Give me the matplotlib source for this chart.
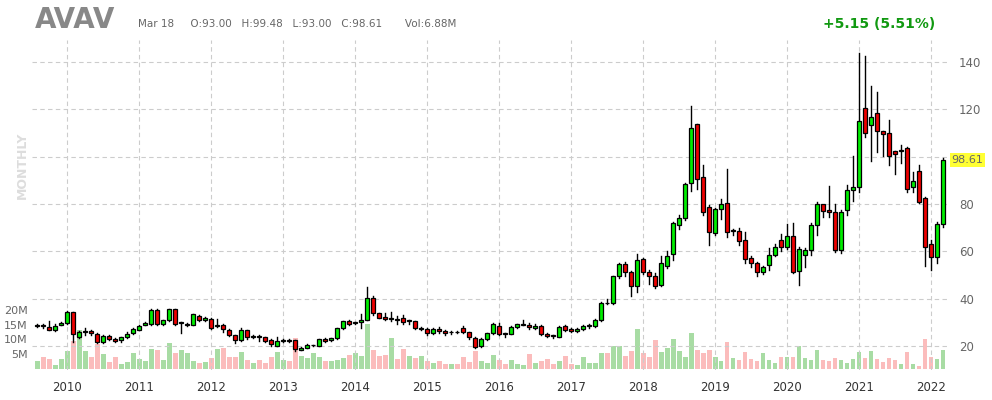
import numpy as np
import matplotlib
matplotlib.use("Agg")
import matplotlib.pyplot as plt
from matplotlib.patches import Rectangle

# monthly candles, Aug 2009 .. Mar 2022
first_month = (2009, 8)
opens = [28.6,28.5,28.2,26.7,29.0,29.6,34.2,24.0,26.0,26.5,25.0,21.9,24.4,23.2,22.4,23.7,25.4,27.0,29.0,29.3,35.2,29.2,31.0,35.6,29.8,29.0,29.0,32.5,31.1,
         31.6,28.6,29.1,27.0,24.5,22.4,26.6,24.0,24.0,23.7,22.4,20.2,22.3,22.3,22.4,18.2,19.4,20.3,20.2,22.8,22.4,23.3,27.5,30.8,29.9,30.0,31.2,40.5,33.8,
         32.3,31.5,31.3,31.9,30.5,30.5,27.2,27.2,25.4,27.2,26.5,25.8,25.9,27.5,25.8,23.5,19.9,23.1,25.5,28.6,25.3,25.1,28.0,29.1,29.1,27.6,28.6,25.2,
         24.4,24.0,28.6,27.3,26.2,27.2,28.5,28.5,31.1,38.2,38.0,49.4,54.5,51.4,45.5,56.6,51.5,49.8,46.0,54.0,58.7,71.0,73.9,89.1,113.7,91.3,78.6,67.6,77.9,80.3,68.7,68.8,
         65.0,57.4,54.9,51.1,54.3,58.6,65.0,62.0,66.7,51.9,58.3,60.8,71.0,80.0,77.4,76.6,60.4,77.3,86.0,87.2,120.4,113.6,118.3,110.9,110.2,102.2,102.5,103.5,87.1,94.0,82.4,63.0,57.5,71.4]
closes = [28.7,28.4,27.0,28.6,29.6,34.5,25.0,25.8,26.1,25.4,21.6,24.3,22.9,22.2,23.7,25.1,27.2,28.4,29.6,35.2,29.2,31.0,35.5,29.2,29.9,29.3,33.4,31.2,32.0,
          27.6,28.7,27.1,24.5,22.4,26.6,23.7,24.1,23.9,22.0,20.7,22.0,22.4,22.2,18.6,19.4,20.3,20.4,22.8,22.0,23.3,27.5,30.4,29.4,30.0,31.2,40.5,33.8,32.0,
          31.6,31.6,31.2,30.3,30.6,27.6,27.3,25.4,27.2,26.2,25.4,25.9,25.8,25.8,23.7,19.8,23.1,25.5,29.4,25.0,25.2,28.0,29.2,29.2,27.9,28.6,24.9,24.4,
          24.3,28.1,27.0,26.5,27.2,28.3,28.6,31.2,38.4,38.0,49.5,54.5,51.4,45.5,56.2,51.3,49.7,45.5,54.9,58.0,71.8,73.9,88.3,112.2,90.4,76.8,68.0,77.9,80.0,68.3,68.8,64.6,
          56.8,54.9,51.5,53.6,58.3,61.7,61.7,66.7,51.5,61.2,60.4,71.1,80.0,77.0,76.6,60.4,76.6,85.8,87.0,114.9,110.2,116.6,110.7,109.8,100.5,101.3,102.6,86.5,89.6,81.0,62.0,57.5,71.4,98.61]
highs = [29.3,29.2,30.5,29.3,30.0,34.8,34.5,26.5,27.5,27.0,25.5,24.8,24.7,23.5,24.0,26.0,27.8,29.0,30.2,35.5,35.8,31.2,35.8,35.8,30.2,29.6,33.6,33.0,32.3,
         32.0,31.5,29.4,27.2,24.8,27.8,26.9,24.6,24.8,24.0,22.8,23.7,22.8,22.9,22.6,19.8,20.8,20.6,23.2,23.6,23.6,27.7,30.6,31.0,30.3,33.6,44.9,41.0,34.0,
         34.0,34.2,32.8,33.0,31.0,30.8,28.0,27.8,27.6,28.1,26.9,26.5,26.4,28.5,26.0,23.9,23.4,25.7,29.9,29.6,25.6,28.4,29.5,31.2,29.6,29.3,28.9,25.7,
         24.8,28.4,28.9,27.6,27.6,29.1,29.3,31.4,38.6,39.8,49.7,55.1,55.5,51.6,59.0,57.2,52.3,51.0,58.2,60.0,72.5,75.5,89.0,121.4,114.0,96.5,79.8,78.4,82.3,95.0,69.5,70.0,
         68.0,58.0,55.6,53.9,61.5,63.0,67.2,71.6,71.8,62.0,61.5,71.8,81.0,79.4,87.8,80.0,77.5,88.2,100.5,144.0,142.6,130.0,127.3,111.0,115.3,102.6,105.0,104.3,93.5,96.6,83.0,65.0,72.5,99.48]
lows = [28.0,27.8,26.8,26.3,28.8,29.3,21.9,23.5,24.6,24.5,21.2,21.3,22.5,21.8,21.9,23.5,25.2,27.0,28.8,29.0,28.7,28.9,30.8,28.9,25.5,28.3,28.8,30.6,30.8,
        27.3,28.0,26.0,24.1,21.5,22.1,23.1,23.4,22.2,21.6,20.0,20.0,21.8,21.6,17.8,18.2,19.2,20.0,20.0,21.7,22.1,23.1,27.2,28.8,29.2,27.8,31.0,33.3,31.7,
        30.9,30.8,29.3,29.2,29.4,27.3,26.7,24.8,25.0,25.4,24.8,25.3,25.4,25.4,22.8,19.4,19.6,22.7,25.0,24.6,23.8,24.9,27.7,28.8,27.2,27.2,24.5,23.8,
        23.4,23.8,26.3,25.9,26.0,26.7,27.8,28.1,30.8,37.9,37.8,48.9,49.8,41.3,43.0,50.5,46.2,44.5,45.3,53.1,56.2,69.6,73.3,85.7,86.4,75.3,62.9,67.0,73.7,66.2,67.0,62.8,
        55.3,53.6,49.6,50.5,52.3,58.1,60.2,61.2,50.7,45.6,53.5,58.5,66.8,74.6,74.5,59.6,59.3,75.3,81.1,85.1,108.2,98.3,102.0,100.5,96.4,92.7,97.3,84.9,85.3,80.6,53.7,52.3,55.2,70.2]
volumes = [2.6,3.9,3.3,1.3,3.3,6.0,9.4,13.2,6.0,4.1,8.5,5.0,2.3,3.9,1.6,2.3,5.4,3.3,2.6,6.7,6.4,3.0,8.8,5.4,6.4,5.4,2.6,1.9,2.3,
           3.7,6.7,7.0,3.9,3.9,5.7,3.0,1.9,3.0,1.9,3.9,5.7,3.0,2.6,10.5,4.3,3.7,5.4,3.9,2.6,2.6,3.0,3.7,4.7,5.4,4.3,15.2,6.4,4.3,
           4.7,10.5,3.3,6.7,4.3,3.7,4.3,2.6,1.9,2.6,1.6,1.6,1.6,3.9,2.3,6.0,2.6,1.9,4.7,3.0,1.6,3.0,1.6,1.3,5.0,1.9,2.6,3.4,
           1.6,2.6,4.3,1.6,1.3,4.0,2.0,2.0,5.4,5.4,7.8,7.8,4.3,6.0,13.5,5.4,4.0,9.8,5.7,7.0,10.1,6.0,4.0,12.1,6.3,5.4,6.3,4.0,2.6,9.1,3.7,3.0,
           5.7,3.3,2.6,5.4,3.0,2.0,4.0,4.0,4.0,7.7,3.7,3.0,6.4,3.0,2.6,3.7,3.0,2.0,3.3,5.7,3.7,6.0,3.3,2.3,3.7,3.0,1.6,5.7,1.6,0.9,10.1,4.0,3.3,6.4]
price_ticks = [20, 40, 60, 80, 100, 120, 140]
price_labels = ["20", "40", "60", "80", "", "120", "140"]
vol_ticks = [5, 10, 15, 20]
years = list(range(2010, 2023))

n = len(closes)
x = np.arange(n)

fig = plt.figure(figsize=(9.92, 4.0), dpi=100)
ax = fig.add_axes([32/992, 30/400, 916/992, 330/400])
axv = ax.twinx()
ax.set_zorder(2)
ax.patch.set_visible(False)

# volume bars
vcol = ['#a8dca4' if c >= o else '#fbbcbc' for o, c in zip(opens, closes)]
axv.bar(x, volumes, width=0.75, color=vcol, zorder=1)
axv.set_ylim(-0.4, 112)
axv.set_yticks(vol_ticks)
axv.set_yticklabels([f"{v}M" for v in vol_ticks])
axv.yaxis.tick_left()
axv.tick_params(axis='y', length=0, labelsize=8, labelcolor='#666666', pad=3)

# candles
for i in range(n):
    o, c = opens[i], closes[i]
    ax.plot([i, i], [lows[i], highs[i]], color='black', lw=1, zorder=3)
    lo, hi = min(o, c), max(o, c)
    h = max(hi - lo, 0.35)
    col = '#00ee00' if c > o else ('#ee0000' if c < o else 'black')
    ax.add_patch(Rectangle((i - 0.33, lo), 0.66, h, facecolor=col,
                           edgecolor='black', lw=0.9, zorder=4))

ax.set_xlim(-0.9, 151.8)
ax.set_ylim(9.9, 149.3)
ax.set_yticks(price_ticks)
ax.set_yticklabels(price_labels)
ax.yaxis.tick_right()
ax.tick_params(axis='y', length=0, labelsize=8.5, labelcolor='#666666', pad=8)
jan_idx = [(y - first_month[0]) * 12 + 1 - first_month[1] for y in years]
ax.set_xticks(jan_idx)
ax.set_xticklabels([str(y) for y in years])
ax.tick_params(axis='x', length=0, labelsize=8.5, labelcolor='#333333', pad=8)
ax.grid(True, color='#cccccc', ls=(0, (4, 3)), lw=0.8)
for a in (ax, axv):
    for s in a.spines.values():
        s.set_visible(False)
axv.grid(False)

# last price tag
ax.text(151.8 + 0.6, closes[-1], f"{closes[-1]:.2f}", fontsize=8, color='#666666',
        va='center', ha='left', bbox=dict(boxstyle='square,pad=0.15', fc='#ffff33', ec='none'), zorder=6)

fig.text(35/992, 1 - 20/400, "AVAV", fontsize=20, fontweight='bold', color='#888888', va='center')
fig.text(138/992, 1 - 24/400, "Mar 18     O:93.00   H:99.48   L:93.00   C:98.61       Vol:6.88M",
         fontsize=7.5, color='#666666', va='center')
fig.text(935/992, 1 - 24/400, "+5.15 (5.51%)", fontsize=10, fontweight='bold', color='#119911',
         va='center', ha='right')
fig.text(22/992, 1 - 165/400, "MONTHLY", fontsize=9, fontweight='bold', color='#dddddd',
         rotation=90, va='center', ha='center')

fig.savefig("out.png", dpi=100)
